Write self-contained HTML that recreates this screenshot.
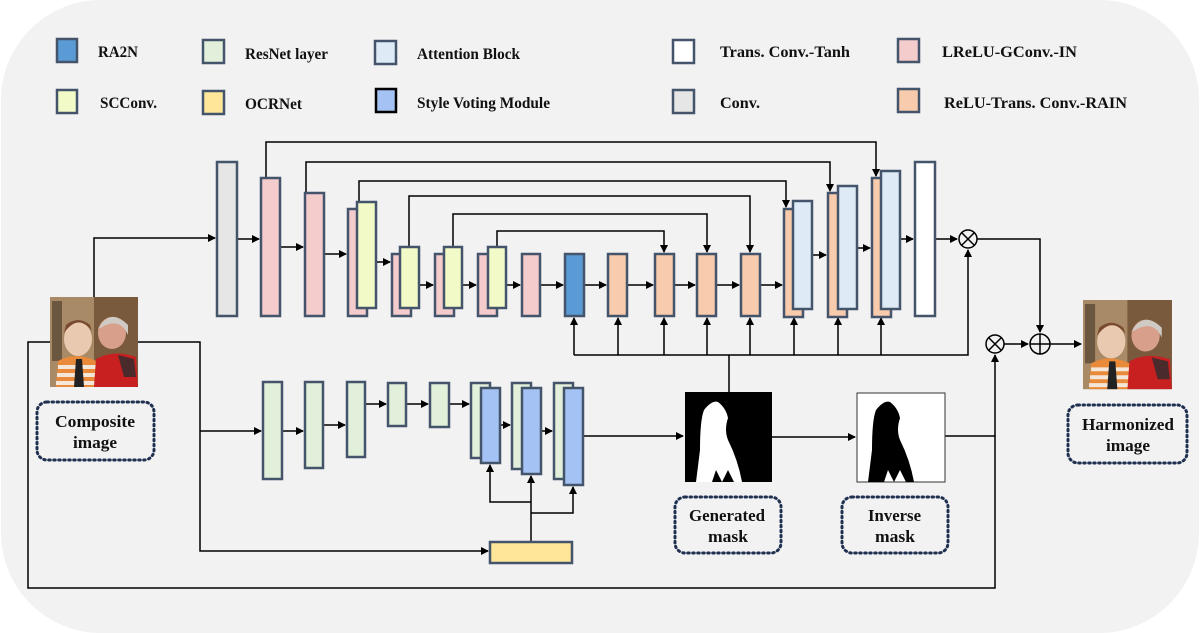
<!DOCTYPE html>
<html><head><meta charset="utf-8"><style>
html,body{margin:0;padding:0;background:#fff;}
svg{display:block;}
svg text{font-family:"Liberation Serif","Times New Roman",serif !important;font-weight:bold;fill:#111;}
</style></head><body>
<svg width="1200" height="633" viewBox="0 0 1200 633" xmlns="http://www.w3.org/2000/svg">
<defs>
<marker id="a" markerWidth="8" markerHeight="8" refX="7" refY="4" orient="auto" markerUnits="userSpaceOnUse"><path d="M0,0 L8,4 L0,8 z" fill="#000"/></marker>
<g id="photo">
<rect x="0" y="0" width="88" height="90" fill="#8a6a4a"/>
<rect x="0" y="0" width="44" height="90" fill="#a88a66"/>
<rect x="2" y="4" width="10" height="60" fill="#6b5640"/>
<rect x="44" y="0" width="44" height="90" fill="#7a5a3c"/>
<ellipse cx="28" cy="42" rx="14" ry="17" fill="#e9c9b0"/>
<path d="M14,36 Q28,16 42,34 L40,28 Q28,18 16,28 z" fill="#7a4a30"/>
<path d="M6,90 L8,64 Q26,54 46,64 L50,90 z" fill="#e88a3a"/>
<path d="M8,70 L48,70 M7,78 L49,78 M6,86 L50,86" stroke="#f4e6d8" stroke-width="4"/>
<path d="M26,62 L32,62 L34,90 L24,90 z" fill="#222"/>
<ellipse cx="62" cy="36" rx="14" ry="16" fill="#d8a08a"/>
<path d="M48,32 Q60,10 78,28 L78,38 Q70,20 52,30 z" fill="#cfcac4"/>
<path d="M44,90 L46,62 Q64,52 86,60 L88,90 z" fill="#c82020"/>
<path d="M68,58 L84,62 L86,80 L74,80 z" fill="#4a2a2a"/>
</g>
</defs>
<rect x="1" y="0" width="1198" height="633" rx="100" ry="100" fill="#f2f2f2"/>

<g stroke="#44546a" stroke-width="2.5">
<rect x="57" y="39" width="20" height="23" fill="#5b9bd5"/>
<rect x="203" y="40" width="21" height="23" fill="#e2efda"/>
<rect x="375" y="41" width="21" height="23" fill="#deebf7"/>
<rect x="673" y="40" width="21" height="23" fill="#ffffff"/>
<rect x="898" y="39" width="21" height="23" fill="#f4cccc"/>
<rect x="57" y="90" width="20" height="23" fill="#f2fbc8"/>
<rect x="203" y="91" width="21" height="23" fill="#ffe699"/>
<rect x="673" y="90" width="21" height="23" fill="#e6e6e6"/>
<rect x="898" y="89" width="21" height="23" fill="#f8cbad"/>
</g>
<rect x="376" y="89" width="20" height="23" fill="#a4c2f4" stroke="#000" stroke-width="2.5"/>
<g font-family="Liberation Serif, serif" font-weight="bold" font-size="16" lengthAdjust="spacingAndGlyphs">
<text x="98" y="57" textLength="40" lengthAdjust="spacingAndGlyphs">RA2N</text>
<text x="245" y="59" textLength="83" lengthAdjust="spacingAndGlyphs">ResNet layer</text>
<text x="417" y="59" textLength="103" lengthAdjust="spacingAndGlyphs">Attention Block</text>
<text x="720" y="57" textLength="130" lengthAdjust="spacingAndGlyphs">Trans. Conv.-Tanh</text>
<text x="942" y="57" textLength="135" lengthAdjust="spacingAndGlyphs">LReLU-GConv.-IN</text>
<text x="100" y="108" textLength="57" lengthAdjust="spacingAndGlyphs">SCConv.</text>
<text x="245" y="109" textLength="57" lengthAdjust="spacingAndGlyphs">OCRNet</text>
<text x="417" y="108" textLength="133" lengthAdjust="spacingAndGlyphs">Style Voting Module</text>
<text x="720" y="108" textLength="40" lengthAdjust="spacingAndGlyphs">Conv.</text>
<text x="944" y="108" textLength="183" lengthAdjust="spacingAndGlyphs">ReLU-Trans. Conv.-RAIN</text>
</g>

<g fill="none" stroke="#000" stroke-width="1.5">
<path d="M266,178 V142 H876 V176" marker-end="url(#a)"/>
<path d="M306,193 V162 H830 V191" marker-end="url(#a)"/>
<path d="M359,202 V181 H786 V207" marker-end="url(#a)"/>
<path d="M409,247 V196 H750 V252" marker-end="url(#a)"/>
<path d="M453,247 V214 H707 V252" marker-end="url(#a)"/>
<path d="M497,247 V231 H664 V252" marker-end="url(#a)"/>
<path d="M94,297 V238 H215" marker-end="url(#a)"/>
<path d="M237,239 H259" marker-end="url(#a)"/>
<path d="M280,247 H303" marker-end="url(#a)"/>
<path d="M324,254 H346" marker-end="url(#a)"/>
<path d="M376,262 H390" marker-end="url(#a)"/>
<path d="M419,285 H433" marker-end="url(#a)"/>
<path d="M462,285 H476" marker-end="url(#a)"/>
<path d="M506,285 H520" marker-end="url(#a)"/>
<path d="M540,285 H563" marker-end="url(#a)"/>
<path d="M584,285 H606" marker-end="url(#a)"/>
<path d="M627,285 H653" marker-end="url(#a)"/>
<path d="M674,285 H695" marker-end="url(#a)"/>
<path d="M716,285 H739" marker-end="url(#a)"/>
<path d="M760,285 H782" marker-end="url(#a)"/>
<path d="M812,255 H826" marker-end="url(#a)"/>
<path d="M857,248 H870" marker-end="url(#a)"/>
<path d="M900,239 H913" marker-end="url(#a)"/>
<path d="M935,239 H957" marker-end="url(#a)"/>
<path d="M574,355 H968 V250" marker-end="url(#a)"/>
<path d="M574,355 V318" marker-end="url(#a)"/>
<path d="M618,355 V318" marker-end="url(#a)"/>
<path d="M664,355 V318" marker-end="url(#a)"/>
<path d="M707,355 V318" marker-end="url(#a)"/>
<path d="M750,355 V318" marker-end="url(#a)"/>
<path d="M794,355 V318" marker-end="url(#a)"/>
<path d="M838,355 V318" marker-end="url(#a)"/>
<path d="M881,355 V318" marker-end="url(#a)"/>
<path d="M729,355 V392"/>
<path d="M977,239 H1040 V332" marker-end="url(#a)"/>
<path d="M1004,344 H1028" marker-end="url(#a)"/>
<path d="M1050,344 H1081" marker-end="url(#a)"/>
<path d="M945,436 H995 V355" marker-end="url(#a)"/>
<path d="M50,342 H28 V588 H995 V436"/>
<path d="M138,342 H200 V551 H488" marker-end="url(#a)"/>
<path d="M200,431 H261" marker-end="url(#a)"/>
<path d="M282,431 H303" marker-end="url(#a)"/>
<path d="M323,425 H345" marker-end="url(#a)"/>
<path d="M365,404 H386" marker-end="url(#a)"/>
<path d="M406,404 H428" marker-end="url(#a)"/>
<path d="M449,404 H469" marker-end="url(#a)"/>
<path d="M500,425 H510" marker-end="url(#a)"/>
<path d="M541,431 H552" marker-end="url(#a)"/>
<path d="M583,436 H683" marker-end="url(#a)"/>
<path d="M772,437 H855" marker-end="url(#a)"/>
<path d="M531,542 V476" marker-end="url(#a)"/>
<path d="M531,502 H490 V465" marker-end="url(#a)"/>
<path d="M531,513 H573 V487" marker-end="url(#a)"/>
</g>

<g stroke="#44546a" stroke-width="2.5">
<rect x="217" y="162" width="20" height="154" fill="#e6e6e6"/>
<rect x="261" y="178" width="19" height="138" fill="#f4cccc"/>
<rect x="305" y="193" width="19" height="123" fill="#f4cccc"/>
<rect x="348" y="209" width="19" height="107" fill="#f4cccc"/>
<rect x="357" y="202" width="19" height="106" fill="#f2fbc8"/>
<rect x="392" y="254" width="19" height="62" fill="#f4cccc"/>
<rect x="400" y="247" width="19" height="61" fill="#f2fbc8"/>
<rect x="435" y="254" width="19" height="62" fill="#f4cccc"/>
<rect x="444" y="247" width="18" height="61" fill="#f2fbc8"/>
<rect x="478" y="254" width="19" height="62" fill="#f4cccc"/>
<rect x="488" y="247" width="18" height="61" fill="#f2fbc8"/>
<rect x="522" y="254" width="18" height="62" fill="#f4cccc"/>
<rect x="565" y="254" width="19" height="62" fill="#5b9bd5"/>
<rect x="608" y="254" width="19" height="62" fill="#f8cbad"/>
<rect x="655" y="254" width="19" height="62" fill="#f8cbad"/>
<rect x="697" y="254" width="19" height="62" fill="#f8cbad"/>
<rect x="741" y="254" width="19" height="62" fill="#f8cbad"/>
<rect x="784" y="209" width="19" height="108" fill="#f8cbad"/>
<rect x="793" y="201" width="19" height="108" fill="#deebf7"/>
<rect x="828" y="193" width="19" height="124" fill="#f8cbad"/>
<rect x="838" y="186" width="19" height="123" fill="#deebf7"/>
<rect x="872" y="178" width="19" height="139" fill="#f8cbad"/>
<rect x="881" y="171" width="19" height="138" fill="#deebf7"/>
<rect x="915" y="162" width="20" height="154" fill="#ffffff"/>

<rect x="263" y="382" width="19" height="97" fill="#e2efda"/>
<rect x="305" y="382" width="18" height="86" fill="#e2efda"/>
<rect x="347" y="382" width="18" height="75" fill="#e2efda"/>
<rect x="388" y="383" width="18" height="43" fill="#e2efda"/>
<rect x="430" y="383" width="19" height="44" fill="#e2efda"/>
<rect x="471" y="383" width="19" height="75" fill="#e2efda"/>
<rect x="481" y="388" width="19" height="75" fill="#a4c2f4"/>
<rect x="512" y="383" width="19" height="86" fill="#e2efda"/>
<rect x="522" y="388" width="19" height="86" fill="#a4c2f4"/>
<rect x="554" y="383" width="19" height="96" fill="#e2efda"/>
<rect x="564" y="388" width="19" height="97" fill="#a4c2f4"/>
<rect x="490" y="542" width="82" height="21" fill="#ffe699"/>
</g>

<g fill="#f2f2f2" stroke="#000" stroke-width="1.5">
<circle cx="968" cy="239" r="9"/>
<path d="M961.6,232.6 L974.4,245.4 M974.4,232.6 L961.6,245.4"/>
<circle cx="995" cy="344" r="9"/>
<path d="M988.6,337.6 L1001.4,350.4 M1001.4,337.6 L988.6,350.4"/>
<circle cx="1040" cy="344" r="10"/>
<path d="M1030,344 H1050 M1040,334 V354"/>
</g>

<use href="#photo" x="50" y="297"/>
<g transform="translate(1083,300) scale(1.01,0.99)"><use href="#photo"/></g>

<rect x="685" y="392" width="87" height="90" fill="#000"/>
<path d="M696,482 L700,450 Q700,420 704,410 Q712,400 718,402 Q726,408 728,418 Q724,430 728,440 Q738,460 742,482 L734,482 L728,470 L722,482 L716,470 L712,482 z" fill="#fff"/>
<rect x="857" y="393" width="88" height="89" fill="#fff" stroke="#333" stroke-width="1"/>
<path d="M868,482 L872,450 Q872,420 876,410 Q884,400 890,402 Q898,408 900,418 Q896,430 900,440 Q910,460 914,482 L906,482 L900,470 L894,482 L888,470 L884,482 z" fill="#000"/>

<g fill="none" stroke="#1f3050" stroke-width="3" stroke-dasharray="1.5 3.5" stroke-linecap="round">
<rect x="37" y="402" width="117" height="58" rx="10"/>
<rect x="675" y="497" width="106" height="56" rx="10"/>
<rect x="842" y="497" width="106" height="56" rx="10"/>
<rect x="1068" y="405" width="119" height="58" rx="10"/>
</g>
<g font-family="Liberation Serif, serif" font-weight="bold" font-size="17">
<text x="55" y="427" textLength="80" lengthAdjust="spacingAndGlyphs">Composite</text>
<text x="73" y="448" textLength="44" lengthAdjust="spacingAndGlyphs">image</text>
<text x="689" y="521" textLength="76" lengthAdjust="spacingAndGlyphs">Generated</text>
<text x="708" y="542" textLength="40" lengthAdjust="spacingAndGlyphs">mask</text>
<text x="868" y="521" textLength="53" lengthAdjust="spacingAndGlyphs">Inverse</text>
<text x="875" y="542" textLength="40" lengthAdjust="spacingAndGlyphs">mask</text>
<text x="1082" y="430" textLength="92" lengthAdjust="spacingAndGlyphs">Harmonized</text>
<text x="1106" y="451" textLength="44" lengthAdjust="spacingAndGlyphs">image</text>
</g>
</svg>
</body></html>
